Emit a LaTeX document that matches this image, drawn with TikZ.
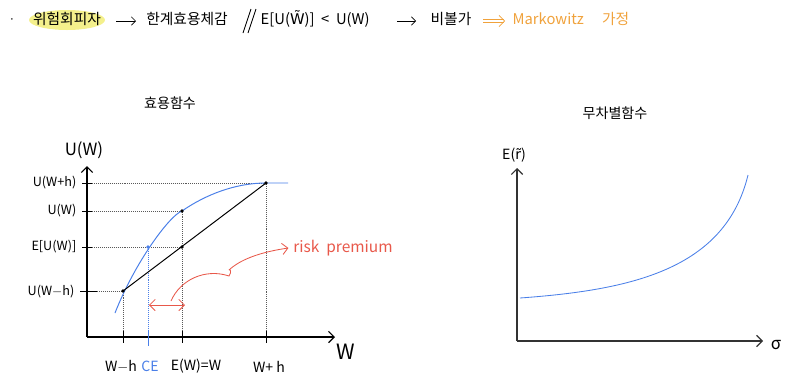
\documentclass[tikz,border=0pt]{standalone}
\usepackage{fontspec}
\setmainfont{Noto Sans CJK KR}
\newfontfamily\tildefont{DejaVu Sans}
\usetikzlibrary{arrows.meta}
\definecolor{hlyellow}{HTML}{F4F08C}
\definecolor{curveblue}{HTML}{4A7FE8}
\definecolor{penorange}{HTML}{F0A23C}
\definecolor{penred}{HTML}{E8584A}
\tikzset{
  axis/.style={line width=0.8pt, -{Straight Barb[length=4pt]}},
  guide/.style={densely dotted, line width=0.4pt, gray!70!black},
  lbl/.style={font=\fontsize{9}{10}\selectfont, inner sep=1pt},
  topline/.style={font=\fontsize{10.5}{12}\selectfont, inner sep=1pt},
  dot/.style={circle, fill, inner sep=0.9pt},
}
\begin{document}
\begin{tikzpicture}[x=0.025cm, y=-0.025cm]
            \useasboundingbox (0,0) rectangle (800,390);
            % top line
            \fill[hlyellow] (67,20) ellipse (38 and 10);
            \node (dot0) at (12,21) {\fontsize{8}{8}\selectfont ·};
            \node[topline] (risk) at (67,19) {위험회피자};
            \node[topline] (dmu) at (187,19) {한계효용체감};
            \node[topline, anchor=west] (ineq) at (259,19) {E[U({\tildefont W̃})] \ <\ \ U(W)};
            \node[topline] (bib) at (451,19) {비볼가};
            \node[topline, text=penorange, anchor=west] (mark) at (511,19) {Markowitz\quad\ 가정};
            \draw[-{Straight Barb[length=3pt]}] (116,21) -- (136,21);
            \draw[line width=0.6pt] (243,33) -- (251,9);
            \draw[line width=0.6pt] (248,33) -- (256,9);
            \draw[-{Straight Barb[length=3pt]}] (397,21) -- (416,21);
            \draw[penorange, double, double distance=2pt, -{Straight Barb[length=4pt]}] (483,21) -- (505,21);

            % utility function
            \node (ltitle) at (170,103) {\fontsize{10}{12}\selectfont 효용함수};
            \coordinate (lo) at (87,337);
            \coordinate (ly) at (87,166);
            \coordinate (lx) at (335,337);
            \draw[axis] (lo) -- (ly);
            \draw[axis] (lo) -- (lx);
            \node (uw) at (84,150) {\fontsize{12}{14}\selectfont U(W)};
            \node (wlab) at (346,352) {\fontsize{15}{16}\selectfont W};

            \coordinate (pa) at (123,291);
            \coordinate (pce) at (148,247);
            \coordinate (pm) at (182,211);
            \coordinate (pe) at (182,247);
            \coordinate (pb) at (266,183);

            \draw[guide] (92,183) -- (pb) -- (266,331);
            \draw[guide] (92,211) -- (pm) -- (182,331);
            \draw[guide] (92,247) -- (pe);
            \draw[guide] (97,291) -- (pa) -- (123,331);
            \draw[guide, curveblue] (pce) -- (148,331);

            \draw[curveblue, line width=0.7pt] (115,313) .. controls (135,262) and (170,215) .. (pm)
              .. controls (205,195) and (235,183) .. (pb) -- (288,183);
            \draw[line width=0.7pt] (pa) -- (pb);
            \node[dot] (da) at (pa) {};
            \node[dot, curveblue] (dce) at (pce) {};
            \node[dot] (dm) at (pm) {};
            \node[dot] (de) at (pe) {};
            \node[dot] (db) at (pb) {};

            % y ticks
            \draw (82,183) -- (92,183);
            \draw (82,211) -- (92,211);
            \draw (82,247) -- (92,247);
            \draw (80,291) -- (97,291);
            \node[lbl, anchor=east] (yb) at (78,183) {U(W+h)};
            \node[lbl, anchor=east] (ym) at (78,211) {U(W)};
            \node[lbl, anchor=east] (ye) at (78,247) {E[U(W)]};
            \node[lbl, anchor=east] (ya) at (76,292) {U(W$-$h)};

            % x ticks
            \draw (123,331) -- (123,343);
            \draw[curveblue, line width=0.7pt] (148,331) -- (148,346);
            \draw (182,331) -- (182,343);
            \draw (266,331) -- (266,343);
            \node[lbl] (xa) at (121,366) {\fontsize{10}{12}\selectfont W$-$h};
            \node[lbl, text=curveblue] (xce) at (150,366) {\fontsize{10}{12}\selectfont CE};
            \node[lbl] (xe) at (196,366) {\fontsize{10}{12}\selectfont E(W)=W};
            \node[lbl] (xb) at (269,367) {\fontsize{10}{12}\selectfont W+ h};

            % risk premium
            \coordinate (rpl) at (149,305);
            \coordinate (rpr) at (185,305);
            \draw[penred, line width=0.6pt, {Straight Barb[length=4pt]}-{Straight Barb[length=4pt]}] (rpl) -- (rpr);
            \node[penred] (rp) at (343,248) {\fontsize{11}{13}\selectfont risk\ \ premium};
            \coordinate (rpk) at (229,276);
            \draw[penred, line width=0.6pt] (171,301) .. controls (180,280) and (205,268) .. (rpk)
              .. controls (232,272) and (230,268) .. (229,270);
            \draw[penred, line width=0.6pt, -{Straight Barb[length=4pt]}] (229,270) .. controls (245,255) and (275,250) .. (rp.west);

            % indifference function
            \node (rtitle) at (615,113) {\fontsize{10}{12}\selectfont 무차별함수};
            \coordinate (ro) at (517,341);
            \coordinate (ry) at (517,168);
            \coordinate (rx) at (763,341);
            \draw[axis, gray!40!black] (ro) -- (ry);
            \draw[axis, gray!40!black] (ro) -- (rx);
            \node (er) at (514,155) {\fontsize{10}{12}\selectfont E({\tildefont r̃})};
            \node (sig) at (776,345) {\fontsize{12}{14}\selectfont σ};
            \coordinate (c0) at (520,298);
            \coordinate (c1) at (748,175);
            \draw[curveblue, line width=0.6pt] (c0) .. controls (630,290) and (725,270) .. (c1);
\end{tikzpicture}
\end{document}
